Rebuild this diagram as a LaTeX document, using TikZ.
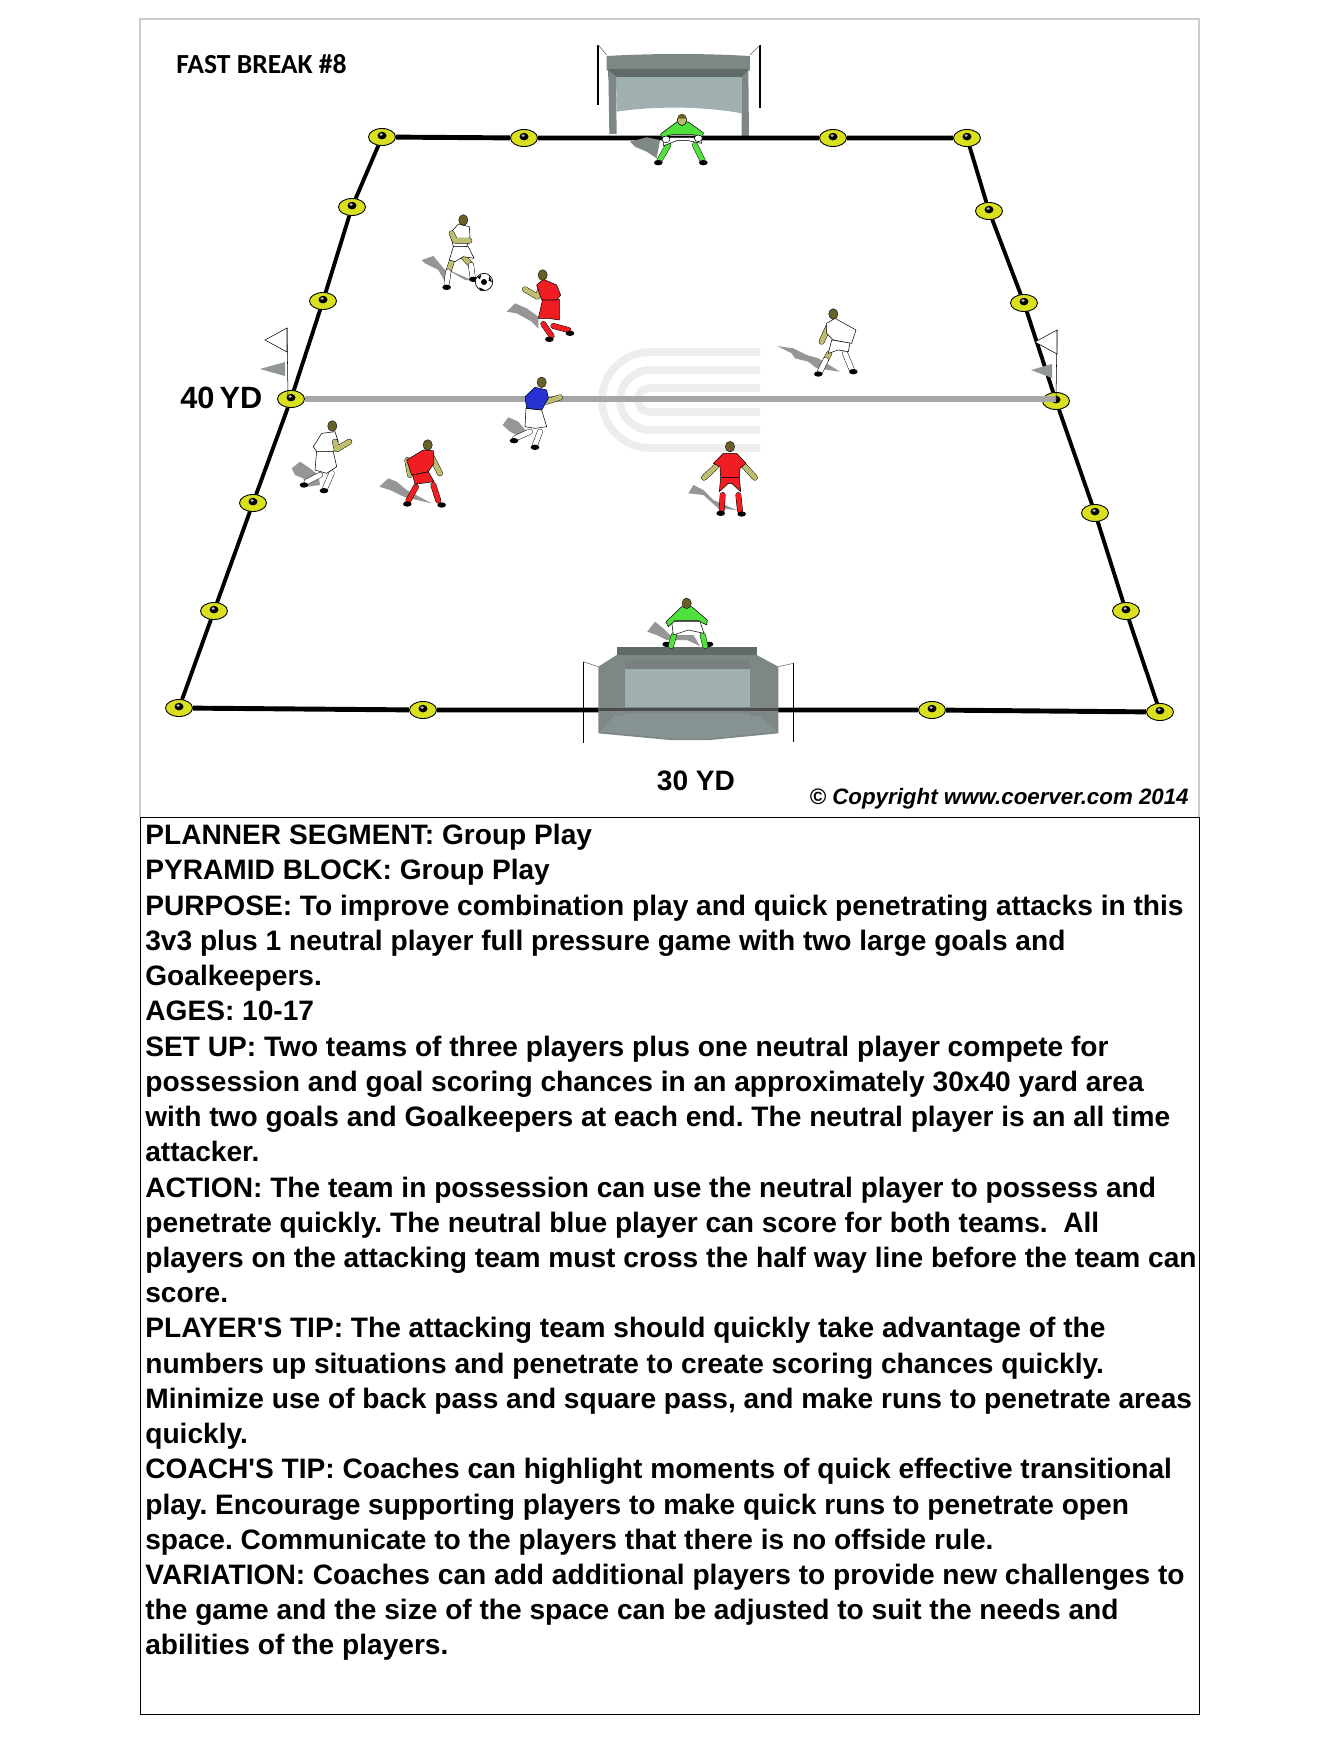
\documentclass[tikz,border=0pt]{standalone}
\usepackage{fontspec}
\setmainfont{Liberation Sans}
\newfontfamily\carlito{Carlito}
\usetikzlibrary{shapes,positioning}
\definecolor{coneyellow}{RGB}{216, 224, 32}
\definecolor{goaldark}{RGB}{96, 106, 105}
\definecolor{goalmid}{RGB}{125, 135, 134}
\definecolor{goalnet}{RGB}{160, 175, 175}
\definecolor{kitred}{RGB}{240, 30, 35}
\definecolor{kitblue}{RGB}{40, 50, 210}
\definecolor{kitgreen}{RGB}{80, 225, 60}
\definecolor{skin}{RGB}{190, 190, 110}
\definecolor{hair}{RGB}{105, 95, 40}
\definecolor{shade}{RGB}{150, 150, 150}
\newcommand{\headat}[2]{\filldraw[fill=hair, draw=black, line width=.2pt] (#1,#2) ellipse (14 and 16);}
\newcommand{\shoeat}[2]{\fill[black] (#1,#2) ellipse (13 and 8);}

\begin{document}
\begin{tikzpicture}[
    x=0.02cm, y=-0.02cm,
    cone/.style={ellipse, draw=black, line width=.5pt, fill=coneyellow, inner sep=0pt, minimum width=.54cm, minimum height=.34cm,
        path picture={\fill[black] ([yshift=.8pt]path picture bounding box.center) ellipse (4.5 and 3.8);
                      \fill[white!70!black] ([xshift=-.5pt,yshift=1.4pt]path picture bounding box.center) ellipse (1.8 and 1.5);}},
    fieldline/.style={draw=black, line width=2.8pt},
    sideline/.style={draw=black, line width=2.2pt},
    crop/.style 2 args={shift={(#1,#2)}, x=0.02cm/3, y=-0.02cm/3},
    limb/.style={draw=black, line width=.25pt, double=#1, double distance=2.8pt, line cap=round, line join=round},
    part/.style={fill=#1, draw=black, line width=.3pt, line join=round},
    shadow/.style={fill=shade, draw=none},
    panel/.style={draw=black, line width=.6pt},
    flag/.style={fill=white, draw=black, line width=.3pt}
]

\path[fill=white, use as bounding box] (0,0) rectangle (1343,1738);
\draw[draw=black!20, line width=.7pt] (140,817) -- (140,19) -- (1199,19) -- (1199,817);

\node[panel, minimum width=21.18cm, minimum height=17.94cm, anchor=north west] (panel) at (140,817) {};

% watermark
\draw[black!7, line width=4.4pt] (760,352) -- (650,352) arc (270:90:48) -- (760,448);
\draw[black!7, line width=4.4pt] (760,370) -- (650,370) arc (270:90:30) -- (760,430);
\draw[black!7, line width=4.4pt] (760,388) -- (650,388) arc (270:90:12) -- (760,412);

\foreach \n/\x/\y in {tl/382/137, ta/524/138, tb/833/138, tr/967/138, la/352/207, lb/323/301, lc/291/399, ld/253/503, le/214/611, bl/179/708, ba/423/710, bb/932/710, br/1160/712, ra/989/211, rb/1024/303, rc/1056/401, rd/1095/513, re/1126/611}
    \node[cone] (c\n) at (\x,\y) {};

% top goal
\begin{scope}[crop={560}{30}]
\draw[black, line width=1pt] (115,45) -- (115,225);
\draw[black, line width=1pt] (600,45) -- (600,235);
\draw[black!60, line width=.3pt] (115,45) -- (140,75) (600,45) -- (570,75);
\fill[goalnet] (168,140) -- (545,140) -- (545,250) .. controls (430,228) and (280,228) .. (170,245) -- cycle;
\fill[goalmid] (140,78) .. controls (280,70) and (430,70) .. (570,78) -- (570,122) -- (140,122) -- cycle;
\fill[goaldark] (145,118) -- (565,118) -- (565,140) -- (145,140) -- cycle;
\fill[goalmid] (145,120) -- (168,140) -- (170,312) -- (148,312) -- cycle;
\fill[goalmid] (565,120) -- (545,140) -- (545,322) -- (567,322) -- cycle;
\end{scope}

% bottom goal
\begin{scope}[crop={560}{580}]
\draw[black, line width=.8pt] (70,245) -- (70,490);
\draw[black, line width=.8pt] (700,250) -- (700,485);
\draw[black!60, line width=.3pt] (70,245) -- (115,260) (700,250) -- (655,260);
\end{scope}

\draw[fieldline] (ctl) -- (cta) -- (ctb) -- (ctr);
\draw[sideline] (ctr) -- (cra) -- (crb) -- (crc) -- (crd) -- (cre) -- (cbr);
\draw[sideline] (ctl) -- (cla) -- (clb) -- (clc) -- (cld) -- (cle) -- (cbl);
\draw[fieldline] (cbl) -- (cba) -- (cbb) -- (cbr);
\draw[draw=black!35, line width=3.2pt] (clc) -- (crc |- clc);

\begin{scope}[crop={560}{580}]
\fill[goalmid] (115,260) -- (170,225) -- (590,225) -- (655,260) -- (655,460) -- (450,480) -- (330,480) -- (115,460) -- cycle;
\fill[goalnet] (195,268) -- (570,268) -- (570,382) -- (195,382) -- cycle;
\fill[goaldark] (170,200) -- (590,200) -- (590,225) -- (170,225) -- cycle;
\fill[goaldark!85] (195,240) -- (570,240) -- (570,268) -- (195,268) -- cycle;
\fill[goalmid!70!goalnet] (170,400) -- (590,400) -- (650,455) -- (450,475) -- (330,475) -- (120,455) -- cycle;
\fill[goaldark!80] (170,380) -- (195,380) -- (195,408) -- (170,408) -- cycle;
\fill[goaldark!80] (570,380) -- (597,380) -- (597,408) -- (570,408) -- cycle;
\draw[black!70, line width=1.8pt] (115,389) -- (655,389);
\end{scope}

% flags
\draw[black, line width=.3pt] (287,328) -- (288,398);
\draw[flag] (287,328) -- (265,340) -- (287,352) -- cycle;
\fill[goaldark!70] (260,369) -- (285,362) -- (285,376) -- cycle;
\draw[black, line width=.3pt] (1057,330) -- (1056,400);
\draw[flag] (1057,330) -- (1035,342) -- (1057,354) -- cycle;
\fill[goaldark!70] (1031,370) -- (1052,364) -- (1052,378) -- cycle;

% top keeper
\begin{scope}[crop={560}{30}]
\fill[shadow, fill=goaldark!80] (210,335) -- (260,322) -- (300,330) -- (290,385) -- (260,365) -- (225,350) -- cycle;
\draw[limb=kitgreen] (325,345) -- (298,392);
\draw[limb=kitgreen] (405,345) -- (428,392);
\shoeat{295}{398} \shoeat{430}{398}
\filldraw[part=white] (310,322) -- (420,322) -- (425,340) -- (385,332) -- (350,332) -- (310,348) -- cycle;
\filldraw[part=kitgreen] (302,312) -- (350,276) -- (385,276) -- (430,308) -- (428,320) -- (398,314) -- (335,314) -- (305,322) -- cycle;
\filldraw[part=white] (318,328) ellipse (12 and 10);
\filldraw[part=white] (415,325) ellipse (12 and 10);
\filldraw[part=skin] (366,270) ellipse (14 and 17);
\fill[hair] (352,266) arc (180:360:14 and 15) -- cycle;
\end{scope}

% bottom keeper
\begin{scope}[crop={560}{580}]
\fill[shadow] (262,155) -- (285,125) -- (310,145) -- (330,165) -- (400,165) -- (420,198) -- (380,180) -- (320,180) -- (290,165) -- cycle;
\shoeat{320}{193} \shoeat{447}{193}
\draw[limb=kitgreen] (342,165) -- (333,198);
\draw[limb=kitgreen] (428,165) -- (436,198);
\filldraw[part=white] (335,125) -- (420,125) -- (432,160) -- (385,150) -- (340,165) -- cycle;
\filldraw[part=kitgreen] (318,125) -- (365,80) -- (395,80) -- (442,120) -- (440,135) -- (415,122) -- (345,122) -- (325,140) -- cycle;
\headat{380}{70}
\end{scope}

% ball carrier and ball
\begin{scope}[crop={400}{200}]
\fill[shadow] (65,180) -- (100,168) -- (135,210) -- (135,245) -- (115,210) -- (75,190) -- cycle;
\fill[shadow] (135,205) -- (215,240) -- (195,240) -- cycle;
\draw[limb=skin] (155,185) -- (145,215);
\draw[limb=white] (145,215) -- (140,250);
\shoeat{140}{262}
\draw[limb=skin] (190,170) -- (213,195);
\draw[limb=white] (213,195) -- (218,232);
\shoeat{220}{238}
\filldraw[part=white] (160,140) -- (205,140) -- (222,175) -- (190,170) -- (165,185) -- (148,180) -- cycle;
\filldraw[part=white] (150,100) -- (175,72) -- (208,80) -- (210,110) -- (200,140) -- (160,140) -- cycle;
\draw[limb=skin] (155,100) -- (165,122) -- (208,122);
\headat{190}{60}
\filldraw[fill=white, draw=black, line width=.4pt] (252,246) circle (26);
\fill[black] (252,246) circle (9);
\fill[black] (232,232) -- (244,224) -- (240,238) -- cycle;
\fill[black] (268,228) -- (276,246) -- (266,242) -- cycle;
\fill[black] (238,262) -- (254,270) -- (240,272) -- cycle;
\end{scope}

% red chaser
\begin{scope}[crop={400}{200}]
\fill[shadow] (320,335) -- (345,310) -- (380,325) -- (415,350) -- (415,385) -- (395,365) -- (350,340) -- cycle;
\draw[limb=kitred] (460,378) -- (505,390);
\shoeat{510}{400}
\draw[limb=kitred] (430,372) -- (455,408);
\shoeat{448}{418}
\draw[limb=skin] (375,268) -- (412,290) -- (422,268);
\filldraw[part=kitred] (428,298) -- (478,298) -- (478,360) -- (445,355) -- (415,355) -- cycle;
\filldraw[part=kitred] (410,255) -- (430,238) -- (470,255) -- (482,285) -- (470,300) -- (425,300) -- cycle;
\headat{428}{225}
\end{scope}

% white and red pair on the left
\begin{scope}[crop={290}{410}]
\fill[shadow] (5,175) -- (30,155) -- (60,175) -- (85,195) -- (90,225) -- (50,230) -- (40,205) -- (15,195) -- cycle;
\draw[limb=white] (90,195) -- (50,215);
\shoeat{42}{225}
\draw[limb=white] (125,190) -- (105,235);
\shoeat{102}{242}
\filldraw[part=white] (80,122) -- (130,125) -- (140,170) -- (110,190) -- (75,180) -- cycle;
\filldraw[part=white] (70,110) -- (95,70) -- (135,65) -- (145,95) -- (130,125) -- (80,125) -- cycle;
\draw[limb=skin] (135,95) -- (140,118) -- (178,95);
\headat{127}{48}
\fill[shadow] (268,230) -- (295,205) -- (320,215) -- (350,240) -- (425,280) -- (345,262) -- (300,240) -- cycle;
\draw[limb=kitred] (378,230) -- (355,272);
\shoeat{352}{282}
\draw[limb=kitred] (430,225) -- (445,272);
\shoeat{455}{285}
\draw[limb=skin] (352,150) -- (360,195);
\draw[limb=skin] (425,140) -- (450,190);
\filldraw[part=kitred] (368,195) -- (415,185) -- (432,215) -- (395,220) -- (375,222) -- cycle;
\filldraw[part=kitred] (350,150) -- (400,120) -- (430,122) -- (432,160) -- (415,185) -- (365,195) -- cycle;
\headat{413}{105}
\end{scope}

% neutral player
\begin{scope}[crop={490}{360}]
\fill[shadow] (38,195) -- (55,172) -- (85,185) -- (110,215) -- (80,225) -- (60,215) -- cycle;
\draw[limb=white] (120,215) -- (75,235);
\shoeat{72}{242}
\draw[limb=white] (150,215) -- (135,255);
\shoeat{135}{262}
\draw[limb=skin] (170,125) -- (210,112);
\filldraw[part=white] (108,145) -- (155,150) -- (170,200) -- (135,205) -- (105,200) -- cycle;
\filldraw[part=kitblue] (105,110) -- (135,82) -- (170,90) -- (175,115) -- (155,150) -- (110,145) -- cycle;
\headat{155}{67}
\end{scope}

% red player on the right
\begin{scope}[crop={680}{430}]
\fill[shadow] (25,190) -- (40,165) -- (70,180) -- (100,210) -- (170,240) -- (115,235) -- (70,195) -- cycle;
\draw[limb=kitred] (128,195) -- (125,242);
\draw[limb=kitred] (175,195) -- (180,242);
\shoeat{122}{250} \shoeat{185}{252}
\draw[limb=skin] (108,110) -- (72,143);
\draw[limb=skin] (190,105) -- (225,143);
\filldraw[part=kitred] (122,142) -- (178,142) -- (182,185) -- (155,160) -- (145,160) -- (118,185) -- cycle;
\filldraw[part=kitred] (100,100) -- (130,70) -- (170,70) -- (198,100) -- (180,115) -- (178,142) -- (122,142) -- (120,110) -- cycle;
\headat{150}{50}
\end{scope}

% white player on the right
\begin{scope}[crop={770}{290}]
\fill[shadow] (22,168) -- (70,175) -- (110,195) -- (145,205) -- (210,245) -- (140,235) -- (115,215) -- (75,205) -- (65,190) -- cycle;
\draw[limb=skin] (178,190) -- (167,210);
\draw[limb=white] (167,210) -- (150,245);
\shoeat{145}{252}
\draw[limb=white] (225,190) -- (245,238);
\shoeat{250}{245}
\draw[limb=skin] (175,110) -- (155,155);
\filldraw[part=white] (185,150) -- (240,158) -- (235,185) -- (205,180) -- (175,190) -- cycle;
\filldraw[part=white] (170,100) -- (195,85) -- (258,120) -- (245,160) -- (190,150) -- (170,130) -- cycle;
\headat{190}{72}
\end{scope}

\node[font=\carlito\bfseries\fontsize{15.7}{18}\selectfont, anchor=west, inner sep=0pt] (title) at (176,64) {FAST BREAK \#8};
\node[font=\bfseries\fontsize{17.5}{19}\selectfont, anchor=west, inner sep=0pt] (widthlabel) at (180,398) {40\,YD};
\node[font=\bfseries\fontsize{16}{18}\selectfont, anchor=center, inner sep=0pt] (depthlabel) at (696,781) {30 YD};
\node[font=\bfseries\itshape\fontsize{12.7}{15}\selectfont, anchor=east, inner sep=0pt] (copyright) at (1189,799) {© Copyright www.coerver.com 2014};

\node[font=\bfseries\fontsize{16}{20.05}\selectfont\frenchspacing, align=left, anchor=north west, inner sep=0pt] (notes) at (145,824) {PLANNER SEGMENT: Group Play\\
PYRAMID BLOCK: Group Play\\
PURPOSE: To improve combination play and quick penetrating attacks in this\\
3v3 plus 1 neutral player full pressure game with two large goals and\\
Goalkeepers.\\
AGES: 10-17\\
SET UP: Two teams of three players plus one neutral player compete for\\
possession and goal scoring chances in an approximately 30x40 yard area\\
with two goals and Goalkeepers at each end. The neutral player is an all time\\
attacker.\\
ACTION: The team in possession can use the neutral player to possess and\\
penetrate quickly. The neutral blue player can score for both teams.\ \ All\\
players on the attacking team must cross the half way line before the team can\\
score.\\
PLAYER\textquotesingle S TIP: The attacking team should quickly take advantage of the\\
numbers up situations and penetrate to create scoring chances quickly.\\
Minimize use of back pass and square pass, and make runs to penetrate areas\\
quickly.\\
COACH\textquotesingle S TIP: Coaches can highlight moments of quick effective transitional\\
play. Encourage supporting players to make quick runs to penetrate open\\
space. Communicate to the players that there is no offside rule.\\
VARIATION: Coaches can add additional players to provide new challenges to\\
the game and the size of the space can be adjusted to suit the needs and\\
abilities of the players.};

\end{tikzpicture}
\end{document}
